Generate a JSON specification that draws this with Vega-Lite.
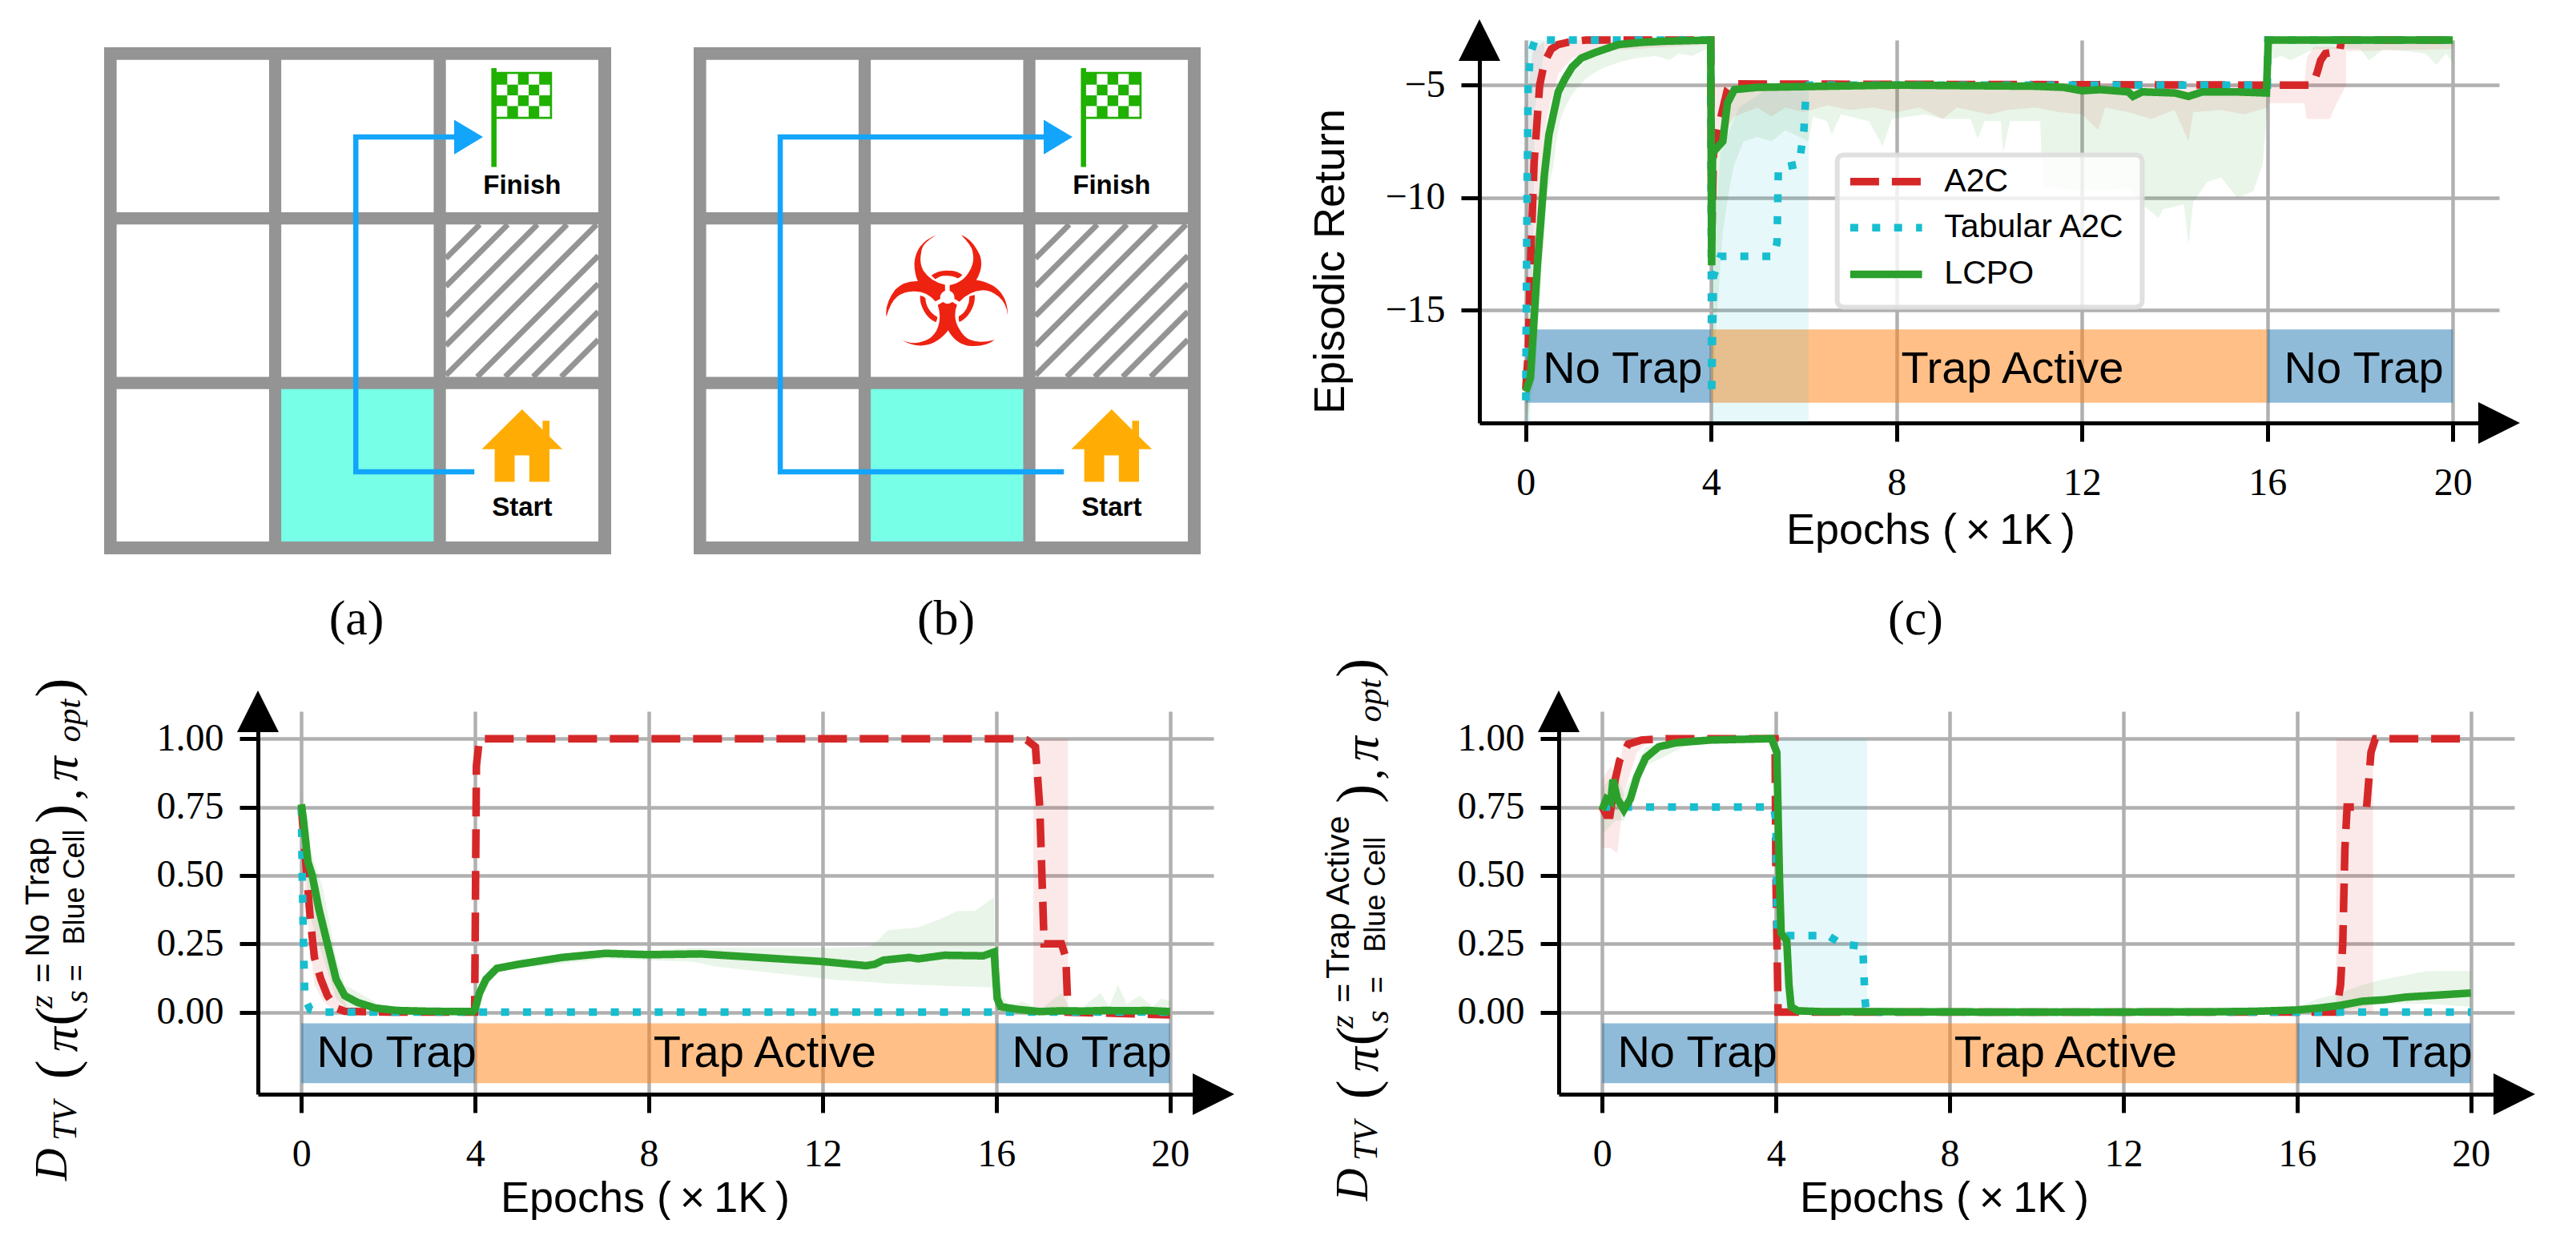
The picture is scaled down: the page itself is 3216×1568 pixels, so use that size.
{"$schema":"https://vega.github.io/schema/vega-lite/v6.json","background":"white","padding":{"left":26,"top":24,"right":0,"bottom":0},"config":{"view":{"stroke":null},"axis":{"domainColor":"black","domainWidth":5,"tickColor":"black","tickWidth":5,"tickSize":23,"gridColor":"#b0b0b0","gridWidth":4.5,"labelFont":"Liberation Serif","labelFontSize":48,"labelColor":"black","titleFont":"Liberation Sans","titleFontWeight":"normal","titleFontSize":54,"titleColor":"black","labelOverlap":false,"labelFlush":false,"labelBound":false}},
"datasets":{
"cells":[{"k":"wall","x":-3.9,"x2":304.1,"y":-3.9,"y2":304.1},
{"k":"cell","x":3.7,"x2":96.3,"y":3.7,"y2":96.3},{"k":"cell","x":103.7,"x2":196.3,"y":3.7,"y2":96.3},{"k":"cell","x":203.7,"x2":296.3,"y":3.7,"y2":96.3},
{"k":"cell","x":3.7,"x2":96.3,"y":103.7,"y2":196.3},{"k":"cell","x":103.7,"x2":196.3,"y":103.7,"y2":196.3},{"k":"cell","x":203.7,"x2":296.3,"y":103.7,"y2":196.3},
{"k":"cell","x":3.7,"x2":96.3,"y":203.7,"y2":296.3},{"k":"blue","x":103.7,"x2":196.3,"y":203.7,"y2":296.3},{"k":"cell","x":203.7,"x2":296.3,"y":203.7,"y2":296.3},
{"k":"flag","x":231.3,"x2":234.5,"y":8.75,"y2":68.8},{"k":"flag","x":234.5,"x2":268.2,"y":11,"y2":39.6},
{"k":"cell","x":241,"x2":247.5,"y":12.3,"y2":18.8},{"k":"cell","x":254,"x2":260.4,"y":12.3,"y2":18.8},
{"k":"cell","x":234.5,"x2":241,"y":18.8,"y2":25.3},{"k":"cell","x":247.5,"x2":254,"y":18.8,"y2":25.3},{"k":"cell","x":260.4,"x2":266.9,"y":18.8,"y2":25.3},
{"k":"cell","x":241,"x2":247.5,"y":25.3,"y2":31.8},{"k":"cell","x":254,"x2":260.4,"y":25.3,"y2":31.8},
{"k":"cell","x":234.5,"x2":241,"y":31.8,"y2":38.3},{"k":"cell","x":247.5,"x2":254,"y":31.8,"y2":38.3},{"k":"cell","x":260.4,"x2":266.9,"y":31.8,"y2":38.3}],
"hatch":[{"x":203.7,"y":124.3,"x2":224.3,"y2":103.7},{"x":203.7,"y":141.3,"x2":241.3,"y2":103.7},{"x":203.7,"y":159.3,"x2":259.3,"y2":103.7},{"x":203.7,"y":177.3,"x2":277.3,"y2":103.7},{"x":203.7,"y":195.3,"x2":295.3,"y2":103.7},{"x":222.7,"y":196.3,"x2":296.3,"y2":122.7},{"x":239.7,"y":196.3,"x2":296.3,"y2":139.7},{"x":256.7,"y":196.3,"x2":296.3,"y2":156.7},{"x":273.7,"y":196.3,"x2":296.3,"y2":173.7}],
"blueBands":[{"s":0,"e":4},{"s":16,"e":20}],"orangeBands":[{"s":4,"e":16}],
"c_lines":[
{"m":"A2C","x":0,"y":-18.5},{"m":"A2C","x":0.05,"y":-17},{"m":"A2C","x":0.1,"y":-13},{"m":"A2C","x":0.18,"y":-8.4},{"m":"A2C","x":0.3,"y":-5},{"m":"A2C","x":0.4,"y":-4},{"m":"A2C","x":0.55,"y":-3.4},{"m":"A2C","x":0.7,"y":-3.2},{"m":"A2C","x":0.9,"y":-3.1},{"m":"A2C","x":1.3,"y":-3},{"m":"A2C","x":3.99,"y":-3},{"m":"A2C","x":4.01,"y":-12},{"m":"A2C","x":4.05,"y":-8},{"m":"A2C","x":4.2,"y":-6.5},{"m":"A2C","x":4.35,"y":-5.2},{"m":"A2C","x":4.45,"y":-4.95},{"m":"A2C","x":16,"y":-5},{"m":"A2C","x":16.9,"y":-5},{"m":"A2C","x":17,"y":-4.9},{"m":"A2C","x":17.08,"y":-4.4},{"m":"A2C","x":17.15,"y":-3.9},{"m":"A2C","x":17.25,"y":-3.6},{"m":"A2C","x":17.56,"y":-3.5},{"m":"A2C","x":17.6,"y":-3},{"m":"A2C","x":20,"y":-3},
{"m":"Tabular A2C","x":0,"y":-19},{"m":"Tabular A2C","x":0.02,"y":-12},{"m":"Tabular A2C","x":0.05,"y":-5},{"m":"Tabular A2C","x":0.1,"y":-3.6},{"m":"Tabular A2C","x":0.2,"y":-3},{"m":"Tabular A2C","x":3.99,"y":-3},{"m":"Tabular A2C","x":4.01,"y":-18.8},{"m":"Tabular A2C","x":4.05,"y":-13.5},{"m":"Tabular A2C","x":4.2,"y":-12.6},{"m":"Tabular A2C","x":5.35,"y":-12.6},{"m":"Tabular A2C","x":5.42,"y":-12},{"m":"Tabular A2C","x":5.45,"y":-8.7},{"m":"Tabular A2C","x":5.9,"y":-8.5},{"m":"Tabular A2C","x":6,"y":-7},{"m":"Tabular A2C","x":6.05,"y":-5.2},{"m":"Tabular A2C","x":6.1,"y":-5},{"m":"Tabular A2C","x":16,"y":-5},{"m":"Tabular A2C","x":16.01,"y":-3},{"m":"Tabular A2C","x":20,"y":-3},
{"m":"LCPO","x":0,"y":-18.6},{"m":"LCPO","x":0.1,"y":-18},{"m":"LCPO","x":0.25,"y":-13},{"m":"LCPO","x":0.4,"y":-9},{"m":"LCPO","x":0.5,"y":-7.2},{"m":"LCPO","x":0.7,"y":-5.3},{"m":"LCPO","x":0.85,"y":-4.7},{"m":"LCPO","x":1,"y":-4.2},{"m":"LCPO","x":1.2,"y":-3.8},{"m":"LCPO","x":1.5,"y":-3.55},{"m":"LCPO","x":2,"y":-3.2},{"m":"LCPO","x":2.5,"y":-3.1},{"m":"LCPO","x":3,"y":-3.05},{"m":"LCPO","x":3.99,"y":-3},{"m":"LCPO","x":4.01,"y":-13},{"m":"LCPO","x":4.03,"y":-8},{"m":"LCPO","x":4.25,"y":-7.5},{"m":"LCPO","x":4.35,"y":-5.8},{"m":"LCPO","x":4.5,"y":-5.2},{"m":"LCPO","x":5,"y":-5.1},{"m":"LCPO","x":8,"y":-5},{"m":"LCPO","x":11,"y":-5.05},{"m":"LCPO","x":11.6,"y":-5.1},{"m":"LCPO","x":12,"y":-5.25},{"m":"LCPO","x":12.4,"y":-5.2},{"m":"LCPO","x":13,"y":-5.3},{"m":"LCPO","x":13.1,"y":-5.5},{"m":"LCPO","x":13.3,"y":-5.3},{"m":"LCPO","x":14,"y":-5.35},{"m":"LCPO","x":14.3,"y":-5.5},{"m":"LCPO","x":14.6,"y":-5.3},{"m":"LCPO","x":15.3,"y":-5.3},{"m":"LCPO","x":15.98,"y":-5.35},{"m":"LCPO","x":16.02,"y":-3},{"m":"LCPO","x":20,"y":-3}],
"c_key":[{"m":"A2C","x":7,"y":-9.29},{"m":"A2C","x":8.55,"y":-9.29},{"m":"Tabular A2C","x":7,"y":-11.33},{"m":"Tabular A2C","x":8.55,"y":-11.33},{"m":"LCPO","x":7,"y":-13.4},{"m":"LCPO","x":8.55,"y":-13.4}],
"c_bands":[
{"m":"Tabular A2C","g":1,"x":0,"lo":-20,"hi":-3},{"m":"Tabular A2C","g":1,"x":0.1,"lo":-20,"hi":-3},{"m":"Tabular A2C","g":1,"x":0.2,"lo":-6,"hi":-3},{"m":"Tabular A2C","g":1,"x":0.4,"lo":-3.5,"hi":-3},
{"m":"Tabular A2C","g":2,"x":4.01,"lo":-20,"hi":-13},{"m":"Tabular A2C","g":2,"x":4.2,"lo":-20,"hi":-8},{"m":"Tabular A2C","g":2,"x":4.6,"lo":-20,"hi":-6},{"m":"Tabular A2C","g":2,"x":5.2,"lo":-20,"hi":-5.2},{"m":"Tabular A2C","g":2,"x":6.1,"lo":-20,"hi":-5},
{"m":"A2C","g":3,"x":0,"lo":-20,"hi":-6},{"m":"A2C","g":3,"x":0.15,"lo":-16,"hi":-3.5},{"m":"A2C","g":3,"x":0.3,"lo":-10,"hi":-3.2},{"m":"A2C","g":3,"x":0.45,"lo":-6.5,"hi":-3},{"m":"A2C","g":3,"x":0.7,"lo":-4.5,"hi":-3},{"m":"A2C","g":3,"x":1,"lo":-3.8,"hi":-3},{"m":"A2C","g":3,"x":1.5,"lo":-3.5,"hi":-3},{"m":"A2C","g":3,"x":4,"lo":-3.2,"hi":-3},
{"m":"A2C","g":4,"x":4.02,"lo":-9,"hi":-5},{"m":"A2C","g":4,"x":4.3,"lo":-7,"hi":-4.9},{"m":"A2C","g":4,"x":4.5,"lo":-6.4,"hi":-4.9},{"m":"A2C","g":4,"x":5,"lo":-6,"hi":-4.9},{"m":"A2C","g":4,"x":5.3,"lo":-6.4,"hi":-4.9},{"m":"A2C","g":4,"x":5.6,"lo":-6,"hi":-4.9},{"m":"A2C","g":4,"x":6,"lo":-6.2,"hi":-4.9},{"m":"A2C","g":4,"x":6.5,"lo":-5.9,"hi":-4.9},{"m":"A2C","g":4,"x":7,"lo":-6.1,"hi":-4.9},{"m":"A2C","g":4,"x":7.5,"lo":-6,"hi":-4.9},{"m":"A2C","g":4,"x":8,"lo":-6.2,"hi":-4.9},{"m":"A2C","g":4,"x":8.5,"lo":-6,"hi":-4.9},{"m":"A2C","g":4,"x":9,"lo":-6.5,"hi":-4.9},{"m":"A2C","g":4,"x":9.3,"lo":-6,"hi":-4.9},{"m":"A2C","g":4,"x":10,"lo":-6.3,"hi":-4.9},{"m":"A2C","g":4,"x":10.4,"lo":-6.1,"hi":-4.9},{"m":"A2C","g":4,"x":11,"lo":-6,"hi":-4.9},{"m":"A2C","g":4,"x":11.5,"lo":-6.2,"hi":-4.9},{"m":"A2C","g":4,"x":12,"lo":-6.3,"hi":-4.9},{"m":"A2C","g":4,"x":12.35,"lo":-7,"hi":-4.9},{"m":"A2C","g":4,"x":12.5,"lo":-6,"hi":-4.9},{"m":"A2C","g":4,"x":13,"lo":-6.2,"hi":-4.9},{"m":"A2C","g":4,"x":13.5,"lo":-6.5,"hi":-4.9},{"m":"A2C","g":4,"x":14,"lo":-6.1,"hi":-4.9},{"m":"A2C","g":4,"x":14.3,"lo":-7.5,"hi":-4.9},{"m":"A2C","g":4,"x":14.4,"lo":-6.2,"hi":-4.9},{"m":"A2C","g":4,"x":15,"lo":-6.1,"hi":-4.9},{"m":"A2C","g":4,"x":15.5,"lo":-6.3,"hi":-4.9},{"m":"A2C","g":4,"x":16,"lo":-6,"hi":-4.9},
{"m":"A2C","g":5,"x":16.02,"lo":-5.8,"hi":-5},{"m":"A2C","g":5,"x":16.8,"lo":-5.8,"hi":-5},{"m":"A2C","g":5,"x":16.85,"lo":-6.5,"hi":-3.8},{"m":"A2C","g":5,"x":17,"lo":-6.5,"hi":-3.3},{"m":"A2C","g":5,"x":17.35,"lo":-6.5,"hi":-3.3},{"m":"A2C","g":5,"x":17.45,"lo":-6,"hi":-3.3},{"m":"A2C","g":5,"x":17.7,"lo":-5,"hi":-3.2},
{"m":"A2C","g":6,"x":17.71,"lo":-3.5,"hi":-3},{"m":"A2C","g":6,"x":20,"lo":-3.4,"hi":-3},
{"m":"LCPO","g":7,"x":0,"lo":-20,"hi":-18},{"m":"LCPO","g":7,"x":0.2,"lo":-18,"hi":-14},{"m":"LCPO","g":7,"x":0.35,"lo":-13,"hi":-9},{"m":"LCPO","g":7,"x":0.45,"lo":-10,"hi":-7.5},{"m":"LCPO","g":7,"x":0.6,"lo":-8.5,"hi":-6},{"m":"LCPO","g":7,"x":0.65,"lo":-7.6,"hi":-5.7},{"m":"LCPO","g":7,"x":0.75,"lo":-6.5,"hi":-5.2},{"m":"LCPO","g":7,"x":0.85,"lo":-6,"hi":-4.8},{"m":"LCPO","g":7,"x":1,"lo":-5.4,"hi":-4.5},{"m":"LCPO","g":7,"x":1.3,"lo":-4.7,"hi":-3.9},{"m":"LCPO","g":7,"x":1.6,"lo":-4.3,"hi":-3.6},{"m":"LCPO","g":7,"x":2,"lo":-4,"hi":-3.4},{"m":"LCPO","g":7,"x":2.4,"lo":-3.8,"hi":-3.2},{"m":"LCPO","g":7,"x":2.8,"lo":-3.7,"hi":-3.1},{"m":"LCPO","g":7,"x":3.1,"lo":-3.9,"hi":-3.1},{"m":"LCPO","g":7,"x":3.3,"lo":-3.6,"hi":-3.05},{"m":"LCPO","g":7,"x":3.6,"lo":-3.7,"hi":-3},{"m":"LCPO","g":7,"x":3.9,"lo":-3.4,"hi":-3},{"m":"LCPO","g":7,"x":4,"lo":-3.1,"hi":-3},
{"m":"LCPO","g":8,"x":4.02,"lo":-19,"hi":-13},{"m":"LCPO","g":8,"x":4.1,"lo":-16,"hi":-8},{"m":"LCPO","g":8,"x":4.25,"lo":-11.5,"hi":-7.5},{"m":"LCPO","g":8,"x":4.4,"lo":-9.5,"hi":-5.5},{"m":"LCPO","g":8,"x":4.5,"lo":-8.5,"hi":-5.2},{"m":"LCPO","g":8,"x":4.7,"lo":-7.5,"hi":-5.1},{"m":"LCPO","g":8,"x":5,"lo":-7.3,"hi":-5.1},{"m":"LCPO","g":8,"x":5.3,"lo":-7.5,"hi":-5},{"m":"LCPO","g":8,"x":5.6,"lo":-7,"hi":-5},{"m":"LCPO","g":8,"x":6.1,"lo":-7.5,"hi":-5},{"m":"LCPO","g":8,"x":6.2,"lo":-6.4,"hi":-5},{"m":"LCPO","g":8,"x":6.5,"lo":-6.6,"hi":-5},{"m":"LCPO","g":8,"x":6.6,"lo":-7.2,"hi":-5},{"m":"LCPO","g":8,"x":6.8,"lo":-6.3,"hi":-5},{"m":"LCPO","g":8,"x":7.4,"lo":-6.6,"hi":-5},{"m":"LCPO","g":8,"x":7.7,"lo":-7.7,"hi":-5},{"m":"LCPO","g":8,"x":7.9,"lo":-6.5,"hi":-5},{"m":"LCPO","g":8,"x":8.6,"lo":-6.3,"hi":-5},{"m":"LCPO","g":8,"x":9,"lo":-6.5,"hi":-5},{"m":"LCPO","g":8,"x":9.6,"lo":-6.5,"hi":-5},{"m":"LCPO","g":8,"x":9.75,"lo":-7.4,"hi":-5},{"m":"LCPO","g":8,"x":9.9,"lo":-6.6,"hi":-5},{"m":"LCPO","g":8,"x":10.25,"lo":-6.6,"hi":-5},{"m":"LCPO","g":8,"x":10.3,"lo":-8,"hi":-5},{"m":"LCPO","g":8,"x":10.45,"lo":-6.6,"hi":-5},{"m":"LCPO","g":8,"x":11.1,"lo":-6.6,"hi":-5},{"m":"LCPO","g":8,"x":11.15,"lo":-9.5,"hi":-5},{"m":"LCPO","g":8,"x":12,"lo":-9.7,"hi":-5.2},{"m":"LCPO","g":8,"x":13,"lo":-9.6,"hi":-5.3},{"m":"LCPO","g":8,"x":13.3,"lo":-10.3,"hi":-5.3},{"m":"LCPO","g":8,"x":13.65,"lo":-10.9,"hi":-5.3},{"m":"LCPO","g":8,"x":13.75,"lo":-10.5,"hi":-5.3},{"m":"LCPO","g":8,"x":14.2,"lo":-10.3,"hi":-5.35},{"m":"LCPO","g":8,"x":14.3,"lo":-12.1,"hi":-5.4},{"m":"LCPO","g":8,"x":14.4,"lo":-10.2,"hi":-5.3},{"m":"LCPO","g":8,"x":14.7,"lo":-9.3,"hi":-5.3},{"m":"LCPO","g":8,"x":15,"lo":-9.1,"hi":-5.3},{"m":"LCPO","g":8,"x":15.35,"lo":-10,"hi":-5.3},{"m":"LCPO","g":8,"x":15.7,"lo":-9.7,"hi":-5.3},{"m":"LCPO","g":8,"x":15.9,"lo":-8.5,"hi":-5.3},{"m":"LCPO","g":8,"x":16,"lo":-6,"hi":-5.3},
{"m":"LCPO","g":9,"x":16.02,"lo":-3.9,"hi":-3},{"m":"LCPO","g":9,"x":16.3,"lo":-3.7,"hi":-3},{"m":"LCPO","g":9,"x":16.5,"lo":-3.9,"hi":-3},{"m":"LCPO","g":9,"x":17,"lo":-3.4,"hi":-3},{"m":"LCPO","g":9,"x":18,"lo":-3.4,"hi":-3},{"m":"LCPO","g":9,"x":18.2,"lo":-3.9,"hi":-3},{"m":"LCPO","g":9,"x":18.5,"lo":-3.4,"hi":-3},{"m":"LCPO","g":9,"x":19,"lo":-3.5,"hi":-3},{"m":"LCPO","g":9,"x":19.4,"lo":-3.6,"hi":-3},{"m":"LCPO","g":9,"x":19.65,"lo":-4.1,"hi":-3},{"m":"LCPO","g":9,"x":19.85,"lo":-3.6,"hi":-3},{"m":"LCPO","g":9,"x":20,"lo":-4,"hi":-3}],
"d_lines":[
{"m":"A2C","x":0,"y":0.75},{"m":"A2C","x":0.1,"y":0.55},{"m":"A2C","x":0.2,"y":0.35},{"m":"A2C","x":0.3,"y":0.2},{"m":"A2C","x":0.45,"y":0.12},{"m":"A2C","x":0.6,"y":0.06},{"m":"A2C","x":0.8,"y":0.015},{"m":"A2C","x":1,"y":0.003},{"m":"A2C","x":2,"y":0},{"m":"A2C","x":3.99,"y":0},{"m":"A2C","x":4.03,"y":0.9},{"m":"A2C","x":4.1,"y":1},{"m":"A2C","x":16,"y":1},{"m":"A2C","x":16.4,"y":1},{"m":"A2C","x":16.7,"y":0.995},{"m":"A2C","x":16.9,"y":0.97},{"m":"A2C","x":17,"y":0.75},{"m":"A2C","x":17.05,"y":0.5},{"m":"A2C","x":17.1,"y":0.25},{"m":"A2C","x":17.5,"y":0.25},{"m":"A2C","x":17.6,"y":0.2},{"m":"A2C","x":17.65,"y":0},{"m":"A2C","x":20,"y":-0.01},
{"m":"Tabular A2C","x":0,"y":0.75},{"m":"Tabular A2C","x":0.02,"y":0.5},{"m":"Tabular A2C","x":0.05,"y":0.25},{"m":"Tabular A2C","x":0.08,"y":0.05},{"m":"Tabular A2C","x":0.2,"y":0.01},{"m":"Tabular A2C","x":0.4,"y":0},{"m":"Tabular A2C","x":20,"y":0},
{"m":"LCPO","x":0,"y":0.76},{"m":"LCPO","x":0.05,"y":0.7},{"m":"LCPO","x":0.15,"y":0.55},{"m":"LCPO","x":0.25,"y":0.5},{"m":"LCPO","x":0.4,"y":0.38},{"m":"LCPO","x":0.6,"y":0.25},{"m":"LCPO","x":0.8,"y":0.12},{"m":"LCPO","x":1,"y":0.06},{"m":"LCPO","x":1.3,"y":0.035},{"m":"LCPO","x":1.7,"y":0.015},{"m":"LCPO","x":2.2,"y":0.006},{"m":"LCPO","x":3,"y":0.003},{"m":"LCPO","x":3.95,"y":0.002},{"m":"LCPO","x":4,"y":0.01},{"m":"LCPO","x":4.1,"y":0.07},{"m":"LCPO","x":4.25,"y":0.12},{"m":"LCPO","x":4.5,"y":0.16},{"m":"LCPO","x":5,"y":0.175},{"m":"LCPO","x":6,"y":0.2},{"m":"LCPO","x":7,"y":0.215},{"m":"LCPO","x":8,"y":0.21},{"m":"LCPO","x":9.2,"y":0.213},{"m":"LCPO","x":10,"y":0.205},{"m":"LCPO","x":11,"y":0.195},{"m":"LCPO","x":12,"y":0.185},{"m":"LCPO","x":13,"y":0.17},{"m":"LCPO","x":13.2,"y":0.175},{"m":"LCPO","x":13.4,"y":0.19},{"m":"LCPO","x":14,"y":0.2},{"m":"LCPO","x":14.2,"y":0.195},{"m":"LCPO","x":14.8,"y":0.208},{"m":"LCPO","x":15.7,"y":0.206},{"m":"LCPO","x":15.95,"y":0.22},{"m":"LCPO","x":16.02,"y":0.05},{"m":"LCPO","x":16.1,"y":0.02},{"m":"LCPO","x":16.5,"y":0.01},{"m":"LCPO","x":17,"y":0.002},{"m":"LCPO","x":17.5,"y":0.005},{"m":"LCPO","x":18,"y":0.004},{"m":"LCPO","x":18.5,"y":0.006},{"m":"LCPO","x":19,"y":0.005},{"m":"LCPO","x":19.5,"y":0.006},{"m":"LCPO","x":20,"y":0.002}],
"d_bands":[
{"m":"A2C","g":1,"x":0,"lo":0.75,"hi":0.75},{"m":"A2C","g":1,"x":0.1,"lo":0.4,"hi":0.7},{"m":"A2C","g":1,"x":0.3,"lo":0.1,"hi":0.45},{"m":"A2C","g":1,"x":0.5,"lo":0.04,"hi":0.3},{"m":"A2C","g":1,"x":0.8,"lo":0,"hi":0.1},{"m":"A2C","g":1,"x":1.1,"lo":0,"hi":0.01},
{"m":"A2C","g":2,"x":16.85,"lo":0,"hi":1},{"m":"A2C","g":2,"x":17.65,"lo":0,"hi":1},
{"m":"LCPO","g":3,"x":0,"lo":0.72,"hi":0.8},{"m":"LCPO","g":3,"x":0.2,"lo":0.35,"hi":0.6},{"m":"LCPO","g":3,"x":0.5,"lo":0.2,"hi":0.45},{"m":"LCPO","g":3,"x":0.8,"lo":0.05,"hi":0.2},{"m":"LCPO","g":3,"x":1,"lo":0.02,"hi":0.1},{"m":"LCPO","g":3,"x":2,"lo":0,"hi":0.01},{"m":"LCPO","g":3,"x":4,"lo":0,"hi":0.005},
{"m":"LCPO","g":4,"x":4.01,"lo":0,"hi":0.01},{"m":"LCPO","g":4,"x":4.3,"lo":0.1,"hi":0.15},{"m":"LCPO","g":4,"x":4.5,"lo":0.15,"hi":0.17},{"m":"LCPO","g":4,"x":5,"lo":0.16,"hi":0.19},{"m":"LCPO","g":4,"x":7,"lo":0.195,"hi":0.23},{"m":"LCPO","g":4,"x":8,"lo":0.19,"hi":0.225},{"m":"LCPO","g":4,"x":9,"lo":0.185,"hi":0.235},{"m":"LCPO","g":4,"x":9.53,"lo":0.167,"hi":0.235},{"m":"LCPO","g":4,"x":12.3,"lo":0.118,"hi":0.235},{"m":"LCPO","g":4,"x":13.1,"lo":0.11,"hi":0.24},{"m":"LCPO","g":4,"x":13.26,"lo":0.108,"hi":0.26},{"m":"LCPO","g":4,"x":13.5,"lo":0.105,"hi":0.3},{"m":"LCPO","g":4,"x":14.2,"lo":0.1,"hi":0.31},{"m":"LCPO","g":4,"x":14.7,"lo":0.097,"hi":0.34},{"m":"LCPO","g":4,"x":15.1,"lo":0.095,"hi":0.37},{"m":"LCPO","g":4,"x":15.5,"lo":0.093,"hi":0.37},{"m":"LCPO","g":4,"x":15.95,"lo":0.09,"hi":0.42},
{"m":"LCPO","g":5,"x":16.02,"lo":0.02,"hi":0.12},{"m":"LCPO","g":5,"x":16.1,"lo":0,"hi":0.07},{"m":"LCPO","g":5,"x":16.3,"lo":0,"hi":0.02},{"m":"LCPO","g":5,"x":16.6,"lo":0,"hi":0.04},{"m":"LCPO","g":5,"x":17,"lo":0,"hi":0.01},{"m":"LCPO","g":5,"x":17.5,"lo":0,"hi":0.07},{"m":"LCPO","g":5,"x":17.7,"lo":0,"hi":0.01},{"m":"LCPO","g":5,"x":18,"lo":0,"hi":0.02},{"m":"LCPO","g":5,"x":18.4,"lo":0,"hi":0.07},{"m":"LCPO","g":5,"x":18.6,"lo":0,"hi":0.02},{"m":"LCPO","g":5,"x":18.8,"lo":0,"hi":0.1},{"m":"LCPO","g":5,"x":19,"lo":0,"hi":0.03},{"m":"LCPO","g":5,"x":19.3,"lo":0,"hi":0.06},{"m":"LCPO","g":5,"x":19.6,"lo":0,"hi":0.02},{"m":"LCPO","g":5,"x":19.8,"lo":0,"hi":0.05},{"m":"LCPO","g":5,"x":20,"lo":0,"hi":0.04}],
"e_lines":[
{"m":"A2C","x":0,"y":0.75},{"m":"A2C","x":0.1,"y":0.72},{"m":"A2C","x":0.18,"y":0.72},{"m":"A2C","x":0.3,"y":0.85},{"m":"A2C","x":0.4,"y":0.92},{"m":"A2C","x":0.6,"y":0.98},{"m":"A2C","x":0.9,"y":0.995},{"m":"A2C","x":1.5,"y":1},{"m":"A2C","x":3.98,"y":1},{"m":"A2C","x":4,"y":0.5},{"m":"A2C","x":4.05,"y":0},{"m":"A2C","x":16.9,"y":0},{"m":"A2C","x":17,"y":0.1},{"m":"A2C","x":17.05,"y":0.25},{"m":"A2C","x":17.1,"y":0.6},{"m":"A2C","x":17.15,"y":0.75},{"m":"A2C","x":17.6,"y":0.75},{"m":"A2C","x":17.7,"y":0.95},{"m":"A2C","x":17.8,"y":1},{"m":"A2C","x":20,"y":1},
{"m":"Tabular A2C","x":0,"y":0.75},{"m":"Tabular A2C","x":3.95,"y":0.75},{"m":"Tabular A2C","x":4,"y":0.7},{"m":"Tabular A2C","x":4.03,"y":0.3},{"m":"Tabular A2C","x":4.1,"y":0.28},{"m":"Tabular A2C","x":5.2,"y":0.28},{"m":"Tabular A2C","x":5.5,"y":0.25},{"m":"Tabular A2C","x":6,"y":0.24},{"m":"Tabular A2C","x":6.05,"y":0.05},{"m":"Tabular A2C","x":6.08,"y":0},{"m":"Tabular A2C","x":20,"y":0},
{"m":"LCPO","x":0,"y":0.74},{"m":"LCPO","x":0.1,"y":0.78},{"m":"LCPO","x":0.2,"y":0.77},{"m":"LCPO","x":0.25,"y":0.85},{"m":"LCPO","x":0.35,"y":0.78},{"m":"LCPO","x":0.5,"y":0.74},{"m":"LCPO","x":0.65,"y":0.78},{"m":"LCPO","x":0.8,"y":0.86},{"m":"LCPO","x":1,"y":0.93},{"m":"LCPO","x":1.3,"y":0.97},{"m":"LCPO","x":1.7,"y":0.985},{"m":"LCPO","x":2.5,"y":0.995},{"m":"LCPO","x":3.9,"y":1},{"m":"LCPO","x":4.02,"y":0.95},{"m":"LCPO","x":4.08,"y":0.5},{"m":"LCPO","x":4.12,"y":0.29},{"m":"LCPO","x":4.25,"y":0.26},{"m":"LCPO","x":4.3,"y":0.1},{"m":"LCPO","x":4.35,"y":0.02},{"m":"LCPO","x":4.5,"y":0.005},{"m":"LCPO","x":5,"y":0.002},{"m":"LCPO","x":10,"y":0},{"m":"LCPO","x":14,"y":0.001},{"m":"LCPO","x":15,"y":0.003},{"m":"LCPO","x":16,"y":0.008},{"m":"LCPO","x":16.5,"y":0.015},{"m":"LCPO","x":17,"y":0.025},{"m":"LCPO","x":17.5,"y":0.04},{"m":"LCPO","x":18,"y":0.045},{"m":"LCPO","x":18.5,"y":0.055},{"m":"LCPO","x":19,"y":0.06},{"m":"LCPO","x":19.5,"y":0.065},{"m":"LCPO","x":20,"y":0.07}],
"e_bands":[
{"m":"A2C","g":1,"x":0,"lo":0.6,"hi":0.85},{"m":"A2C","g":1,"x":0.2,"lo":0.6,"hi":0.9},{"m":"A2C","g":1,"x":0.35,"lo":0.58,"hi":0.85},{"m":"A2C","g":1,"x":0.5,"lo":0.8,"hi":1},{"m":"A2C","g":1,"x":0.8,"lo":0.95,"hi":1},{"m":"A2C","g":1,"x":1,"lo":0.98,"hi":1},
{"m":"A2C","g":2,"x":16.9,"lo":0,"hi":1},{"m":"A2C","g":2,"x":17.75,"lo":0,"hi":1},
{"m":"Tabular A2C","g":3,"x":4.05,"lo":0,"hi":1},{"m":"Tabular A2C","g":3,"x":6.1,"lo":0,"hi":1},
{"m":"LCPO","g":4,"x":0,"lo":0.65,"hi":0.82},{"m":"LCPO","g":4,"x":0.3,"lo":0.7,"hi":0.88},{"m":"LCPO","g":4,"x":0.5,"lo":0.7,"hi":0.8},{"m":"LCPO","g":4,"x":0.8,"lo":0.82,"hi":0.9},{"m":"LCPO","g":4,"x":1,"lo":0.9,"hi":0.97},{"m":"LCPO","g":4,"x":2,"lo":0.98,"hi":1},{"m":"LCPO","g":4,"x":4,"lo":1,"hi":1},
{"m":"LCPO","g":5,"x":15,"lo":0,"hi":0.01},{"m":"LCPO","g":5,"x":16,"lo":0,"hi":0.02},{"m":"LCPO","g":5,"x":16.5,"lo":0,"hi":0.05},{"m":"LCPO","g":5,"x":17,"lo":0,"hi":0.07},{"m":"LCPO","g":5,"x":17.5,"lo":0.02,"hi":0.1},{"m":"LCPO","g":5,"x":18,"lo":0.03,"hi":0.12},{"m":"LCPO","g":5,"x":19,"lo":0.03,"hi":0.15},{"m":"LCPO","g":5,"x":20,"lo":0.02,"hi":0.15}]
},
"vconcat":[
{"spacing":0,"bounds":"flush","hconcat":[
{"width":633,"height":642,"layer":[
{"data":{"name":"cells"},"mark":{"type":"rect"},"encoding":{"x":{"field":"x","type":"quantitative","scale":{"domain":[-3.9,304.1],"nice":false,"zero":false},"axis":null},"x2":{"field":"x2"},"y":{"field":"y","type":"quantitative","scale":{"domain":[-8.3,304.1],"nice":false,"zero":false,"reverse":true},"axis":null},"y2":{"field":"y2"},"fill":{"field":"k","type":"nominal","legend":null,"scale":{"domain":["wall","cell","blue","flag"],"range":["#949494","#ffffff","#78ffe8","#1fb000"]}}}},
{"data":{"name":"hatch"},"mark":{"type":"rule","color":"#949494","strokeWidth":7},"encoding":{"x":{"field":"x","type":"quantitative"},"y":{"field":"y","type":"quantitative"},"x2":{"field":"x2"},"y2":{"field":"y2"}}},
{"data":{"values":[{"o":1,"x":221,"y":254},{"o":2,"x":149,"y":254},{"o":3,"x":149,"y":50.6},{"o":4,"x":212,"y":50.6}]},"mark":{"type":"line","color":"#12a5fb","strokeWidth":6.5},"encoding":{"x":{"field":"x","type":"quantitative"},"y":{"field":"y","type":"quantitative"},"order":{"field":"o"}}},
{"data":{"values":[{"x":217.5,"y":50.6}]},"mark":{"type":"point","filled":true,"opacity":1,"color":"#12a5fb","size":1296,"shape":"M -1 -1.2 L 1 0 L -1 1.2 Z"},"encoding":{"x":{"field":"x","type":"quantitative"},"y":{"field":"y","type":"quantitative"}}},
{"data":{"values":[{"x":250,"y":238}]},"mark":{"type":"point","filled":true,"opacity":1,"color":"#ffad05","size":10120,"shape":"M 0 -0.9 L 0.51 -0.39 L 0.51 -0.616 L 0.68 -0.616 L 0.68 -0.22 L 1 0.09 L 0.68 0.09 L 0.68 0.9 L 0.18 0.9 L 0.18 0.245 L -0.185 0.245 L -0.185 0.9 L -0.68 0.9 L -0.68 0.09 L -1 0.09 Z"},"encoding":{"x":{"field":"x","type":"quantitative"},"y":{"field":"y","type":"quantitative"}}},
{"data":{"values":[{"x":250,"y":80.3,"t":"Finish"},{"x":250,"y":276,"t":"Start"}]},"mark":{"type":"text","font":"Liberation Sans","fontWeight":"bold","fontSize":33,"color":"black","baseline":"middle"},"encoding":{"x":{"field":"x","type":"quantitative"},"y":{"field":"y","type":"quantitative"},"text":{"field":"t"}}},
{"data":{"values":[{"x":149.4,"y":343.5,"t":"(a)"}]},"mark":{"type":"text","font":"Liberation Serif","fontSize":62,"color":"black","baseline":"middle"},"encoding":{"x":{"field":"x","type":"quantitative"},"y":{"field":"y","type":"quantitative"},"text":{"field":"t"}}}
]},
{"width":103,"height":10,"data":{"values":[{"t":""}]},"mark":{"type":"text","opacity":0},"encoding":{"text":{"field":"t"}}},
{"width":633,"height":642,"layer":[
{"data":{"name":"cells"},"mark":{"type":"rect"},"encoding":{"x":{"field":"x","type":"quantitative","scale":{"domain":[-3.9,304.1],"nice":false,"zero":false},"axis":null},"x2":{"field":"x2"},"y":{"field":"y","type":"quantitative","scale":{"domain":[-8.3,304.1],"nice":false,"zero":false,"reverse":true},"axis":null},"y2":{"field":"y2"},"fill":{"field":"k","type":"nominal","legend":null,"scale":{"domain":["wall","cell","blue","flag"],"range":["#949494","#ffffff","#78ffe8","#1fb000"]}}}},
{"data":{"name":"hatch"},"mark":{"type":"rule","color":"#949494","strokeWidth":7},"encoding":{"x":{"field":"x","type":"quantitative"},"y":{"field":"y","type":"quantitative"},"x2":{"field":"x2"},"y2":{"field":"y2"}}},
{"data":{"values":[{"x":150,"y":150,"t":"☣"}]},"mark":{"type":"text","font":"DejaVu Sans","fontSize":190,"color":"#ee2211","baseline":"middle"},"encoding":{"x":{"field":"x","type":"quantitative"},"y":{"field":"y","type":"quantitative"},"text":{"field":"t"}}},
{"data":{"values":[{"o":1,"x":221,"y":254},{"o":2,"x":48.7,"y":254},{"o":3,"x":48.7,"y":50.6},{"o":4,"x":212,"y":50.6}]},"mark":{"type":"line","color":"#12a5fb","strokeWidth":6.5},"encoding":{"x":{"field":"x","type":"quantitative"},"y":{"field":"y","type":"quantitative"},"order":{"field":"o"}}},
{"data":{"values":[{"x":217.5,"y":50.6}]},"mark":{"type":"point","filled":true,"opacity":1,"color":"#12a5fb","size":1296,"shape":"M -1 -1.2 L 1 0 L -1 1.2 Z"},"encoding":{"x":{"field":"x","type":"quantitative"},"y":{"field":"y","type":"quantitative"}}},
{"data":{"values":[{"x":250,"y":238}]},"mark":{"type":"point","filled":true,"opacity":1,"color":"#ffad05","size":10120,"shape":"M 0 -0.9 L 0.51 -0.39 L 0.51 -0.616 L 0.68 -0.616 L 0.68 -0.22 L 1 0.09 L 0.68 0.09 L 0.68 0.9 L 0.18 0.9 L 0.18 0.245 L -0.185 0.245 L -0.185 0.9 L -0.68 0.9 L -0.68 0.09 L -1 0.09 Z"},"encoding":{"x":{"field":"x","type":"quantitative"},"y":{"field":"y","type":"quantitative"}}},
{"data":{"values":[{"x":250,"y":80.3,"t":"Finish"},{"x":250,"y":276,"t":"Start"}]},"mark":{"type":"text","font":"Liberation Sans","fontWeight":"bold","fontSize":33,"color":"black","baseline":"middle"},"encoding":{"x":{"field":"x","type":"quantitative"},"y":{"field":"y","type":"quantitative"},"text":{"field":"t"}}},
{"data":{"values":[{"x":149.4,"y":343.5,"t":"(b)"}]},"mark":{"type":"text","font":"Liberation Serif","fontSize":62,"color":"black","baseline":"middle"},"encoding":{"x":{"field":"x","type":"quantitative"},"y":{"field":"y","type":"quantitative"},"text":{"field":"t"}}}
]},
{"width":348,"height":10,"data":{"values":[{"t":""}]},"mark":{"type":"text","opacity":0},"encoding":{"text":{"field":"t"}}},
{"width":1273,"height":478,"layer":[
{"data":{"name":"blueBands"},"mark":{"type":"rect","color":"#1f77b4","opacity":0.5},"encoding":{"x":{"field":"s","type":"quantitative","scale":{"domain":[-1,21],"nice":false,"zero":false},"axis":{"values":[0,4,8,12,16,20],"format":"d","grid":true,"title":"Epochs (\u2009×\u20091K\u2009)","titleX":563,"titleY":134,"titleBaseline":"middle","titleAlign":"center","labelPadding":28}},"x2":{"field":"e"},"y":{"datum":-15.85,"type":"quantitative","scale":{"domain":[-20,-3],"nice":false,"zero":false},"axis":{"values":[-5,-10,-15],"format":"d","grid":true,"title":"Episodic Return","titleFontSize":54,"titleX":-186,"titleY":276,"titleBaseline":"middle","titleAlign":"center","labelPadding":20}},"y2":{"datum":-19.1}}},
{"data":{"name":"orangeBands"},"mark":{"type":"rect","color":"#ff7f0e","opacity":0.5},"encoding":{"x":{"field":"s","type":"quantitative"},"x2":{"field":"e"},"y":{"datum":-15.85,"type":"quantitative"},"y2":{"datum":-19.1}}},
{"data":{"name":"c_bands"},"transform":[{"filter":"datum.m==='Tabular A2C'"}],"mark":{"type":"area","opacity":0.1,"color":"#17becf"},"encoding":{"x":{"field":"x","type":"quantitative"},"y":{"field":"lo","type":"quantitative"},"y2":{"field":"hi"},"detail":{"field":"g"}}},
{"data":{"name":"c_bands"},"transform":[{"filter":"datum.m==='A2C'"}],"mark":{"type":"area","opacity":0.1,"color":"#d62728"},"encoding":{"x":{"field":"x","type":"quantitative"},"y":{"field":"lo","type":"quantitative"},"y2":{"field":"hi"},"detail":{"field":"g"}}},
{"data":{"name":"c_bands"},"transform":[{"filter":"datum.m==='LCPO'"}],"mark":{"type":"area","opacity":0.1,"color":"#2ca02c"},"encoding":{"x":{"field":"x","type":"quantitative"},"y":{"field":"lo","type":"quantitative"},"y2":{"field":"hi"},"detail":{"field":"g"}}},
{"data":{"values":[{"x":2.09,"y":-17.6,"t":"No Trap"},{"x":10.5,"y":-17.6,"t":"Trap Active"},{"x":18.08,"y":-17.6,"t":"No Trap"}]},"mark":{"type":"text","font":"Liberation Sans","fontSize":56,"color":"black","baseline":"middle"},"encoding":{"x":{"field":"x","type":"quantitative"},"y":{"field":"y","type":"quantitative"},"text":{"field":"t"}}},
{"data":{"name":"c_lines"},"mark":{"type":"line","strokeWidth":9.5},"encoding":{"x":{"field":"x","type":"quantitative"},"y":{"field":"y","type":"quantitative"},"color":{"field":"m","type":"nominal","legend":null,"scale":{"domain":["A2C","Tabular A2C","LCPO"],"range":["#d62728","#17becf","#2ca02c"]}},"strokeDash":{"field":"m","type":"nominal","legend":null,"scale":{"domain":["A2C","Tabular A2C","LCPO"],"range":[[36,16],[10,17.4],[1,0]]}}}},
{"data":{"values":[{"x":6.72,"x2":13.3,"y":-8.1,"y2":-14.86}]},"mark":{"type":"rect","fill":"white","fillOpacity":0.8,"stroke":"#dddddd","strokeOpacity":0.9,"strokeWidth":6,"cornerRadius":8},"encoding":{"x":{"field":"x","type":"quantitative"},"x2":{"field":"x2"},"y":{"field":"y","type":"quantitative"},"y2":{"field":"y2"}}},
{"data":{"name":"c_key"},"mark":{"type":"line","strokeWidth":9.5},"encoding":{"x":{"field":"x","type":"quantitative"},"y":{"field":"y","type":"quantitative"},"color":{"field":"m","type":"nominal","legend":null},"strokeDash":{"field":"m","type":"nominal","legend":null}}},
{"data":{"values":[{"x":9.03,"y":-9.29,"t":"A2C"},{"x":9.03,"y":-11.33,"t":"Tabular A2C"},{"x":9.03,"y":-13.4,"t":"LCPO"}]},"mark":{"type":"text","font":"Liberation Sans","fontSize":41,"color":"black","align":"left","baseline":"middle"},"encoding":{"x":{"field":"x","type":"quantitative"},"y":{"field":"y","type":"quantitative"},"text":{"field":"t"}}},
{"data":{"values":[{"x":-1,"y":-3}]},"mark":{"type":"point","filled":true,"opacity":1,"color":"black","size":2704,"shape":"M -1 1 L 0 -1 L 1 1 Z"},"encoding":{"x":{"field":"x","type":"quantitative"},"y":{"field":"y","type":"quantitative"}}},
{"data":{"values":[{"x":21,"y":-20}]},"mark":{"type":"point","filled":true,"opacity":1,"color":"black","size":2704,"shape":"M -1 -1 L 1 0 L -1 1 Z"},"encoding":{"x":{"field":"x","type":"quantitative"},"y":{"field":"y","type":"quantitative"}}},
{"data":{"values":[{"x":8.41,"y":-28.7,"t":"(c)"}]},"mark":{"type":"text","font":"Liberation Serif","fontSize":62,"color":"black","baseline":"middle"},"encoding":{"x":{"field":"x","type":"quantitative"},"y":{"field":"y","type":"quantitative"},"text":{"field":"t"}}}
]}
]},
{"spacing":0,"bounds":"flush","hconcat":[
{"width":192,"height":10,"data":{"values":[{"t":""}]},"mark":{"type":"text","opacity":0},"encoding":{"text":{"field":"t"}}},
{"width":1193,"height":478,"layer":[
{"data":{"name":"blueBands"},"mark":{"type":"rect","color":"#1f77b4","opacity":0.5},"encoding":{"x":{"field":"s","type":"quantitative","scale":{"domain":[-1,21],"nice":false,"zero":false},"axis":{"values":[0,4,8,12,16,20],"format":"d","grid":true,"title":"Epochs (\u2009×\u20091K\u2009)","titleX":483,"titleY":130,"titleBaseline":"middle","titleAlign":"center","labelPadding":28}},"x2":{"field":"e"},"y":{"datum":-0.041,"type":"quantitative","scale":{"domain":[-0.3,1.1],"nice":false,"zero":false},"axis":{"values":[0,0.25,0.5,0.75,1],"format":".2f","grid":true,"title":null,"labelPadding":20}},"y2":{"datum":-0.26}}},
{"data":{"name":"orangeBands"},"mark":{"type":"rect","color":"#ff7f0e","opacity":0.5},"encoding":{"x":{"field":"s","type":"quantitative"},"x2":{"field":"e"},"y":{"datum":-0.041,"type":"quantitative"},"y2":{"datum":-0.26}}},
{"data":{"name":"d_bands"},"transform":[{"filter":"datum.m==='A2C'"}],"mark":{"type":"area","opacity":0.1,"color":"#d62728"},"encoding":{"x":{"field":"x","type":"quantitative"},"y":{"field":"lo","type":"quantitative"},"y2":{"field":"hi"},"detail":{"field":"g"}}},
{"data":{"name":"d_bands"},"transform":[{"filter":"datum.m==='LCPO'"}],"mark":{"type":"area","opacity":0.1,"color":"#2ca02c"},"encoding":{"x":{"field":"x","type":"quantitative"},"y":{"field":"lo","type":"quantitative"},"y2":{"field":"hi"},"detail":{"field":"g"}}},
{"data":{"values":[{"x":2.19,"y":-0.152,"t":"No Trap"},{"x":10.67,"y":-0.152,"t":"Trap Active"},{"x":18.2,"y":-0.152,"t":"No Trap"}]},"mark":{"type":"text","font":"Liberation Sans","fontSize":56,"color":"black","baseline":"middle"},"encoding":{"x":{"field":"x","type":"quantitative"},"y":{"field":"y","type":"quantitative"},"text":{"field":"t"}}},
{"data":{"name":"d_lines"},"mark":{"type":"line","strokeWidth":9.5},"encoding":{"x":{"field":"x","type":"quantitative"},"y":{"field":"y","type":"quantitative"},"color":{"field":"m","type":"nominal","legend":null,"scale":{"domain":["A2C","Tabular A2C","LCPO"],"range":["#d62728","#17becf","#2ca02c"]}},"strokeDash":{"field":"m","type":"nominal","legend":null,"scale":{"domain":["A2C","Tabular A2C","LCPO"],"range":[[36,16],[10,17.4],[1,0]]}}}},
{"data":{"values":[{"x":-1,"y":1.1}]},"mark":{"type":"point","filled":true,"opacity":1,"color":"black","size":2704,"shape":"M -1 1 L 0 -1 L 1 1 Z"},"encoding":{"x":{"field":"x","type":"quantitative"},"y":{"field":"y","type":"quantitative"}}},
{"data":{"values":[{"x":21,"y":-0.3}]},"mark":{"type":"point","filled":true,"opacity":1,"color":"black","size":2704,"shape":"M -1 -1 L 1 0 L -1 1 Z"},"encoding":{"x":{"field":"x","type":"quantitative"},"y":{"field":"y","type":"quantitative"}}},
{"data":{"values":[{"x":-5.72,"y":-0.557,"t":"D"}]},"mark":{"type":"text","angle":270,"font":"Liberation Serif","fontStyle":"italic","fontSize":56,"color":"black","baseline":"middle"},"encoding":{"x":{"field":"x","type":"quantitative"},"y":{"field":"y","type":"quantitative"},"text":{"field":"t"}}},
{"data":{"values":[{"x":-5.42,"y":-0.398,"t":"TV"},{"x":-5.34,"y":1.066,"t":"opt"},{"x":-5.97,"y":0.038,"t":"z"},{"x":-5.16,"y":0.056,"t":"s"}]},"mark":{"type":"text","angle":270,"font":"Liberation Serif","fontStyle":"italic","fontSize":42,"color":"black","baseline":"middle"},"encoding":{"x":{"field":"x","type":"quantitative"},"y":{"field":"y","type":"quantitative"},"text":{"field":"t"}}},
{"data":{"values":[{"x":-5.51,"y":-0.1,"t":"π"},{"x":-5.51,"y":0.89,"t":"π"}]},"mark":{"type":"text","angle":270,"font":"Liberation Serif","fontStyle":"italic","fontSize":62,"color":"black","baseline":"middle"},"encoding":{"x":{"field":"x","type":"quantitative"},"y":{"field":"y","type":"quantitative"},"text":{"field":"t"}}},
{"data":{"values":[{"x":-5.61,"y":-0.211,"t":"("},{"x":-5.61,"y":-0.015,"t":"("},{"x":-5.61,"y":0.726,"t":")"},{"x":-5.61,"y":1.186,"t":")"}]},"mark":{"type":"text","angle":270,"font":"Liberation Serif","fontSize":72,"color":"black","baseline":"middle"},"encoding":{"x":{"field":"x","type":"quantitative"},"y":{"field":"y","type":"quantitative"},"text":{"field":"t"}}},
{"data":{"values":[{"x":-5.38,"y":0.796,"t":","}]},"mark":{"type":"text","angle":270,"font":"Liberation Serif","fontSize":56,"color":"black","baseline":"middle"},"encoding":{"x":{"field":"x","type":"quantitative"},"y":{"field":"y","type":"quantitative"},"text":{"field":"t"}}},
{"data":{"values":[{"x":-5.93,"y":0.143,"t":"="},{"x":-6.06,"y":0.42,"t":"No Trap"}]},"mark":{"type":"text","angle":270,"font":"Liberation Sans","fontSize":42,"color":"black","baseline":"middle"},"encoding":{"x":{"field":"x","type":"quantitative"},"y":{"field":"y","type":"quantitative"},"text":{"field":"t"}}},
{"data":{"values":[{"x":-5.16,"y":0.143,"t":"="},{"x":-5.21,"y":0.457,"t":"Blue Cell"}]},"mark":{"type":"text","angle":270,"font":"Liberation Sans","fontSize":36,"color":"black","baseline":"middle"},"encoding":{"x":{"field":"x","type":"quantitative"},"y":{"field":"y","type":"quantitative"},"text":{"field":"t"}}}
]},
{"width":431,"height":10,"data":{"values":[{"t":""}]},"mark":{"type":"text","opacity":0},"encoding":{"text":{"field":"t"}}},
{"width":1193,"height":478,"layer":[
{"data":{"name":"blueBands"},"mark":{"type":"rect","color":"#1f77b4","opacity":0.5},"encoding":{"x":{"field":"s","type":"quantitative","scale":{"domain":[-1,21],"nice":false,"zero":false},"axis":{"values":[0,4,8,12,16,20],"format":"d","grid":true,"title":"Epochs (\u2009×\u20091K\u2009)","titleX":481,"titleY":130,"titleBaseline":"middle","titleAlign":"center","labelPadding":28}},"x2":{"field":"e"},"y":{"datum":-0.041,"type":"quantitative","scale":{"domain":[-0.3,1.1],"nice":false,"zero":false},"axis":{"values":[0,0.25,0.5,0.75,1],"format":".2f","grid":true,"title":null,"labelPadding":20}},"y2":{"datum":-0.26}}},
{"data":{"name":"orangeBands"},"mark":{"type":"rect","color":"#ff7f0e","opacity":0.5},"encoding":{"x":{"field":"s","type":"quantitative"},"x2":{"field":"e"},"y":{"datum":-0.041,"type":"quantitative"},"y2":{"datum":-0.26}}},
{"data":{"name":"e_bands"},"transform":[{"filter":"datum.m==='Tabular A2C'"}],"mark":{"type":"area","opacity":0.1,"color":"#17becf"},"encoding":{"x":{"field":"x","type":"quantitative"},"y":{"field":"lo","type":"quantitative"},"y2":{"field":"hi"},"detail":{"field":"g"}}},
{"data":{"name":"e_bands"},"transform":[{"filter":"datum.m==='A2C'"}],"mark":{"type":"area","opacity":0.1,"color":"#d62728"},"encoding":{"x":{"field":"x","type":"quantitative"},"y":{"field":"lo","type":"quantitative"},"y2":{"field":"hi"},"detail":{"field":"g"}}},
{"data":{"name":"e_bands"},"transform":[{"filter":"datum.m==='LCPO'"}],"mark":{"type":"area","opacity":0.1,"color":"#2ca02c"},"encoding":{"x":{"field":"x","type":"quantitative"},"y":{"field":"lo","type":"quantitative"},"y2":{"field":"hi"},"detail":{"field":"g"}}},
{"data":{"values":[{"x":2.19,"y":-0.152,"t":"No Trap"},{"x":10.67,"y":-0.152,"t":"Trap Active"},{"x":18.2,"y":-0.152,"t":"No Trap"}]},"mark":{"type":"text","font":"Liberation Sans","fontSize":56,"color":"black","baseline":"middle"},"encoding":{"x":{"field":"x","type":"quantitative"},"y":{"field":"y","type":"quantitative"},"text":{"field":"t"}}},
{"data":{"name":"e_lines"},"mark":{"type":"line","strokeWidth":9.5},"encoding":{"x":{"field":"x","type":"quantitative"},"y":{"field":"y","type":"quantitative"},"color":{"field":"m","type":"nominal","legend":null,"scale":{"domain":["A2C","Tabular A2C","LCPO"],"range":["#d62728","#17becf","#2ca02c"]}},"strokeDash":{"field":"m","type":"nominal","legend":null,"scale":{"domain":["A2C","Tabular A2C","LCPO"],"range":[[36,16],[10,17.4],[1,0]]}}}},
{"data":{"values":[{"x":-1,"y":1.1}]},"mark":{"type":"point","filled":true,"opacity":1,"color":"black","size":2704,"shape":"M -1 1 L 0 -1 L 1 1 Z"},"encoding":{"x":{"field":"x","type":"quantitative"},"y":{"field":"y","type":"quantitative"}}},
{"data":{"values":[{"x":21,"y":-0.3}]},"mark":{"type":"point","filled":true,"opacity":1,"color":"black","size":2704,"shape":"M -1 -1 L 1 0 L -1 1 Z"},"encoding":{"x":{"field":"x","type":"quantitative"},"y":{"field":"y","type":"quantitative"}}},
{"data":{"values":[{"x":-5.72,"y":-0.63,"t":"D"}]},"mark":{"type":"text","angle":270,"font":"Liberation Serif","fontStyle":"italic","fontSize":56,"color":"black","baseline":"middle"},"encoding":{"x":{"field":"x","type":"quantitative"},"y":{"field":"y","type":"quantitative"},"text":{"field":"t"}}},
{"data":{"values":[{"x":-5.42,"y":-0.471,"t":"TV"},{"x":-5.34,"y":1.139,"t":"opt"},{"x":-5.97,"y":-0.035,"t":"z"},{"x":-5.16,"y":-0.017,"t":"s"}]},"mark":{"type":"text","angle":270,"font":"Liberation Serif","fontStyle":"italic","fontSize":42,"color":"black","baseline":"middle"},"encoding":{"x":{"field":"x","type":"quantitative"},"y":{"field":"y","type":"quantitative"},"text":{"field":"t"}}},
{"data":{"values":[{"x":-5.51,"y":-0.173,"t":"π"},{"x":-5.51,"y":0.963,"t":"π"}]},"mark":{"type":"text","angle":270,"font":"Liberation Serif","fontStyle":"italic","fontSize":62,"color":"black","baseline":"middle"},"encoding":{"x":{"field":"x","type":"quantitative"},"y":{"field":"y","type":"quantitative"},"text":{"field":"t"}}},
{"data":{"values":[{"x":-5.61,"y":-0.284,"t":"("},{"x":-5.61,"y":-0.088,"t":"("},{"x":-5.61,"y":0.799,"t":")"},{"x":-5.61,"y":1.259,"t":")"}]},"mark":{"type":"text","angle":270,"font":"Liberation Serif","fontSize":72,"color":"black","baseline":"middle"},"encoding":{"x":{"field":"x","type":"quantitative"},"y":{"field":"y","type":"quantitative"},"text":{"field":"t"}}},
{"data":{"values":[{"x":-5.38,"y":0.869,"t":","}]},"mark":{"type":"text","angle":270,"font":"Liberation Serif","fontSize":56,"color":"black","baseline":"middle"},"encoding":{"x":{"field":"x","type":"quantitative"},"y":{"field":"y","type":"quantitative"},"text":{"field":"t"}}},
{"data":{"values":[{"x":-5.93,"y":0.07,"t":"="},{"x":-6.06,"y":0.42,"t":"Trap Active"}]},"mark":{"type":"text","angle":270,"font":"Liberation Sans","fontSize":41,"color":"black","baseline":"middle"},"encoding":{"x":{"field":"x","type":"quantitative"},"y":{"field":"y","type":"quantitative"},"text":{"field":"t"}}},
{"data":{"values":[{"x":-5.16,"y":0.1,"t":"="},{"x":-5.21,"y":0.43,"t":"Blue Cell"}]},"mark":{"type":"text","angle":270,"font":"Liberation Sans","fontSize":36,"color":"black","baseline":"middle"},"encoding":{"x":{"field":"x","type":"quantitative"},"y":{"field":"y","type":"quantitative"},"text":{"field":"t"}}}
]}
]}
],"spacing":838,"bounds":"flush"}
